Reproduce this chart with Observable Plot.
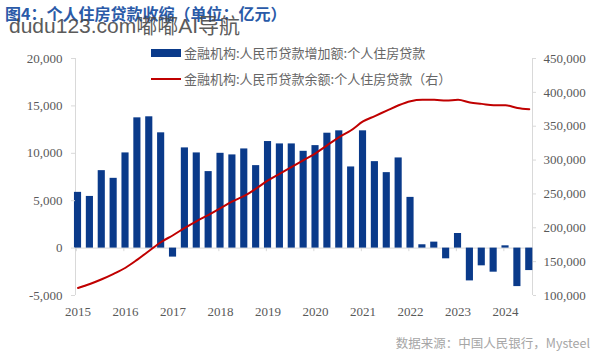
<!DOCTYPE html>
<html>
<head>
<meta charset="utf-8">
<script src="https://cdn.jsdelivr.net/npm/d3@7"></script>
<script src="https://cdn.jsdelivr.net/npm/@observablehq/plot@0.6"></script>
<style>
  html, body { margin: 0; padding: 0; background: #fff; }
  #wrap { position: relative; width: 600px; height: 360px; overflow: hidden; }
  #chart { position: absolute; left: 0; top: 0; }
  .txt { position: absolute; white-space: nowrap; }
  #title { left: 5px; top: 3px; font: bold 16px "Noto Sans CJK SC", sans-serif; color: #2a5aa8; line-height: 20px; }
  #wm { left: 9px; top: 13px; font: 21px "Liberation Sans", "Noto Sans CJK SC", sans-serif; color: #4a4a4a; opacity: 0.9; line-height: 26px; }
  .leg { left: 151px; font: 13px "Noto Sans CJK SC", sans-serif; color: #666; line-height: 16px; display: flex; align-items: center; }
  .sw { display: inline-block; width: 30px; margin-right: 3px; }
  #source { right: 10px; top: 335px; font: 12.5px "Noto Sans CJK SC", sans-serif; color: #a6a6a6; line-height: 16px; }
</style>
</head>
<body>
<div id="wrap">
  <div id="chart"></div>
  <div id="title" class="txt">图4：个人住房贷款收缩（单位：亿元）</div>
  <div id="wm" class="txt">dudu123.com嘟嘟AI导航</div>
  <div id="leg1" class="txt leg" style="top:45px"><span class="sw" style="height:8px;background:#0a3a8a"></span><span id="leg1t"></span></div>
  <div id="leg2" class="txt leg" style="top:71px"><span class="sw" style="height:2px;background:#c00000"></span><span id="leg2t"></span></div>
  <div id="source" class="txt">数据来源：中国人民银行，Mysteel</div>
</div>
<script>
// ---- data ----
const seriesNames = ["金融机构:人民币贷款增加额:个人住房贷款", "金融机构:人民币贷款余额:个人住房贷款（右）"];
const quarters = [
  "2015Q1","2015Q2","2015Q3","2015Q4",
  "2016Q1","2016Q2","2016Q3","2016Q4",
  "2017Q1","2017Q2","2017Q3","2017Q4",
  "2018Q1","2018Q2","2018Q3","2018Q4",
  "2019Q1","2019Q2","2019Q3","2019Q4",
  "2020Q1","2020Q2","2020Q3","2020Q4",
  "2021Q1","2021Q2","2021Q3","2021Q4",
  "2022Q1","2022Q2","2022Q3","2022Q4",
  "2023Q1","2023Q2","2023Q3","2023Q4",
  "2024Q1","2024Q2","2024Q3"
];
// 人民币贷款增加额:个人住房贷款 (亿元, left axis)
const increase = [
  5880, 5450, 8170, 7360,
  10040, 13740, 13850, 12160,
  -950, 10570, 10040, 8070,
  10000, 9830, 10460, 8700,
  11240, 10990, 10990, 10210,
  10810, 12120, 12370, 8560,
  12370, 9120, 7960, 9510,
  5350, 350, 630, -1130,
  1540, -3460, -1870, -2540,
  240, -4060, -2370
];
// 人民币贷款余额:个人住房贷款 (亿元, right axis)
const balance = [
  111000, 117000, 124000, 132000,
  141000, 153000, 166000, 179000,
  189000, 200000, 210000, 219000,
  229000, 239000, 247000, 258000,
  270000, 280000, 290000, 300000,
  310000, 322000, 334000, 344000,
  357000, 365000, 373000, 381000,
  387000, 389000, 389000, 388000,
  389000, 385000, 383000, 381000,
  381000, 377000, 375000
];
const years = [2015, 2016, 2017, 2018, 2019, 2020, 2021, 2022, 2023, 2024];
const leftTicks = [-5000, 0, 5000, 10000, 15000, 20000];
const rightTicks = [100000, 150000, 200000, 250000, 300000, 350000, 400000, 450000];

// ---- build ----
const leftDomain = [-5000, 20000];
const rightDomain = [100000, 450000];
const xDomain = [2014.947, 2024.568];
const toLeft = v => leftDomain[0] + (v - rightDomain[0]) / (rightDomain[1] - rightDomain[0]) * (leftDomain[1] - leftDomain[0]);
const fmt = v => Math.round(v).toLocaleString("en-US");

const data = quarters.map((q, i) => ({
  q,
  t: +q.slice(0, 4) + (+q.slice(5) - 1) / 4,
  inc: increase[i],
  bal: balance[i]
}));

document.getElementById("leg1t").textContent = seriesNames[0];
document.getElementById("leg2t").textContent = seriesNames[1];

const axisColor = "#d9d9d9";
const labelColor = "#595959";
const halfBar = 0.075;

const chart = Plot.plot({
  width: 600,
  height: 360,
  marginLeft: 75,
  marginRight: 68,
  marginTop: 58,
  marginBottom: 65,
  style: { fontFamily: "'Liberation Serif', 'Times New Roman', serif", fontSize: "13px", color: labelColor, background: "#fff" },
  x: { domain: xDomain, axis: null },
  y: { domain: leftDomain, axis: null },
  marks: [
    Plot.ruleX([xDomain[0]], { stroke: axisColor }),
    Plot.ruleX([xDomain[1]], { stroke: axisColor }),
    Plot.ruleY([0], { stroke: axisColor }),
    Plot.ruleX(years, { x: d => d - 0.035, y1: 0, y2: -380, stroke: axisColor }),
    Plot.rect(data, {
      x1: d => d.t - halfBar,
      x2: d => d.t + halfBar,
      y1: 0,
      y2: "inc",
      fill: "#0a3a8a"
    }),
    Plot.line(data, { x: "t", y: d => toLeft(d.bal), stroke: "#c00000", strokeWidth: 2, curve: "monotone-x" }),
    Plot.axisY(leftTicks, {
      anchor: "left", label: null, tickSize: 4, tickPadding: 9, stroke: axisColor,
      tickFormat: fmt, fill: labelColor, fontSize: 13
    }),
    Plot.axisY(rightTicks.map(toLeft), {
      anchor: "right", label: null, tickSize: 3, tickPadding: 8, stroke: axisColor,
      tickFormat: (d, i) => fmt(rightTicks[i]), fill: labelColor, fontSize: 13
    }),
    Plot.axisX(years, {
      anchor: "bottom", label: null, tickSize: 0, tickPadding: 11,
      tickFormat: d => String(d), fill: labelColor, fontSize: 13
    })
  ]
});
document.getElementById("chart").appendChild(chart);
</script>
</body>
</html>
